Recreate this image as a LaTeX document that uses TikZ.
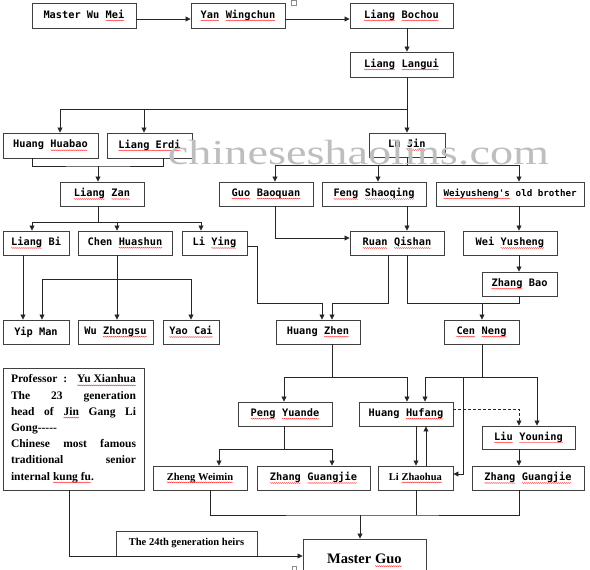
\documentclass[tikz,border=0pt]{standalone}
\usepackage{fontspec}
\setmainfont{Liberation Serif}
\newfontfamily\monofam{DejaVu Sans Mono}
\usetikzlibrary{arrows.meta,decorations.pathmorphing}
\tikzset{
  bx/.style={draw=black!75, line width=0.9pt, fill=white, inner sep=0pt, font=\monofam\bfseries\fontsize{10.3}{12}\selectfont},
  sbx/.style={bx, font=\bfseries\fontsize{10.5}{12}\selectfont},
  conn/.style={draw=black!85, line width=0.8pt},
  arr/.style={conn, -{Triangle[length=5pt,width=5pt]}},
  sqline/.style={draw=red!90, line width=0.35pt, decorate, decoration={snake,amplitude=0.5pt,segment length=2pt}},
  wmark/.style={text={rgb,255:red,190;green,190;blue,190}, font=\fontsize{35}{40}\selectfont, xscale=1.32, inner sep=0pt, anchor=base},
}
\newcommand\sq[1]{\tikz[baseline=(w.base)]{\node[inner sep=0pt,outer sep=0pt,draw=none,fill=none,minimum width=0pt,minimum height=0pt,anchor=base,shape=rectangle,xscale=1](w){#1};\draw[sqline]([yshift=-2.3pt]w.base west)--([yshift=-2.3pt]w.base east);}}
\newcommand\bx[7][]{\node[bx,#1,minimum width={(#5-#3)*1pt},minimum height={(#6-#4)*1pt}] (#2) at ({(#3+#5)/2},{(#4+#6)/2}) {#7};}
\begin{document}
\begin{tikzpicture}[x=1pt,y=-1pt]
\useasboundingbox (0,0) rectangle (590,570);
% boxes
\bx{wumei}{32}{3}{136}{28}{Master Wu \sq{Mei}}
\bx{yan}{191}{3}{285}{28}{\sq{Yan} \sq{Wingchun}}
\bx{bochou}{350}{3}{453}{28}{\sq{Liang} \sq{Bochou}}
\bx{langui}{350}{52}{453}{77}{\sq{Liang} \sq{Langui}}
\bx{huabao}{3}{133}{98}{158}{Huang \sq{Huabao}}
\bx{erdi}{107}{133}{192}{158}{\sq{Liang Erdi}}
\bx{lujin}{369}{133}{445}{157}{Lu \sq{Jin}}
\bx{zan}{60}{182}{144}{206}{\sq{Liang} \sq{Zan}}
\bx{guo}{219}{182}{313}{206}{\sq{Guo} \sq{Baoquan}}
\bx{feng}{322}{182}{426}{206}{\sq{Feng} \sq{Shaoqing}}
\bx[font=\monofam\bfseries\fontsize{9.2}{11}\selectfont]{weiold}{436}{182}{584}{206}{\sq{Weiyusheng's} old brother}
\bx{liangbi}{3}{231}{69}{255}{\sq{Liang} Bi}
\bx{chen}{78}{231}{172}{255}{Chen \sq{Huashun}}
\bx{liying}{182}{231}{247}{255}{Li \sq{Ying}}
\bx{ruan}{350}{231}{444}{255}{\sq{Ruan} \sq{Qishan}}
\bx{weiys}{463}{231}{557}{255}{Wei \sq{Yusheng}}
\bx{zhangbao}{482}{272}{557}{296}{\sq{Zhang} Bao}
\bx{yipman}{3}{320}{69}{344}{Yip Man}
\bx{wuzh}{78}{320}{153}{344}{Wu \sq{Zhongsu}}
\bx{yaocai}{163}{320}{219}{344}{\sq{Yao Cai}}
\bx{huangzhen}{276}{320}{360}{344}{Huang \sq{Zhen}}
\bx{cenneng}{444}{320}{519}{344}{\sq{Cen} \sq{Neng}}
\bx[sbx,font=\bfseries\fontsize{11.5}{16.2}\selectfont]{prof}{3}{368}{144}{490}{\begin{minipage}{125pt}\baselineskip=16.2pt
\makebox[\linewidth][s]{Professor : \sq{Yu Xianhua}}\\
\makebox[\linewidth][s]{The 23 generation}\\
\makebox[\linewidth][s]{head of \sq{Jin} Gang Li}\\
Gong{-}{-}{-}{-}{-}\\
\makebox[\linewidth][s]{Chinese most famous}\\
\makebox[\linewidth][s]{traditional senior}\\
internal \sq{kung fu}.\end{minipage}}
\bx{peng}{238}{402}{332}{426}{\sq{Peng} \sq{Yuande}}
\bx{hufang}{359}{402}{453}{426}{Huang \sq{Hufang}}
\bx{liuy}{482}{426}{575}{449}{\sq{Liu} \sq{Youning}}
\bx[sbx]{zheng}{153}{466}{247}{490}{\sq{Zheng Weimin}}
\bx{zgj1}{257}{466}{370}{490}{\sq{Zhang} \sq{Guangjie}}
\bx[sbx]{lizh}{378}{466}{453}{490}{Li \sq{Zhaohua}}
\bx{zgj2}{472}{466}{584}{490}{\sq{Zhang} \sq{Guangjie}}
\bx[sbx]{heirs}{116}{531}{257}{556}{The 24th generation heirs}
\bx[sbx,font=\bfseries\fontsize{14.5}{16}\selectfont]{mguo}{303}{539}{426}{582}{Master \sq{Guo}}
% junctions
\coordinate (j1) at (407,109);
\coordinate (j2) at (98,166);
\coordinate (j3) at (407,165);
\coordinate (j4) at (98,222);
\coordinate (j5) at (117,279);
\coordinate (b1) at (257,303);
\coordinate (b2) at (332,303);
\coordinate (b3) at (519,303);
\coordinate (j6) at (332,377);
\coordinate (j7) at (482,377);
\coordinate (j8) at (284,449);
\coordinate (j9) at (360,515);
% connectors
\draw[arr] (wumei.east |- 0,19) -- (yan.west |- 0,19);
\draw[arr] (yan.east |- 0,19) -- (bochou.west |- 0,19);
\draw[arr] (bochou.south -| 407,0) -- (langui.north -| 407,0);
\draw[arr] (langui.south -| 407,0) -- (lujin.north -| 407,0);
\draw[arr] (j1) -| (huabao.north -| 60,0);
\draw[arr] (j1 -| 144,0) -- (erdi.north -| 144,0);
\draw[conn] (huabao.south -| 32,0) |- (j2) -| (erdi.south -| 163,0);
\draw[arr] (j2) -- (zan.north -| 98,0);
\draw[conn] (lujin.south -| 407,0) -- (j3);
\draw[arr] (j3) -| (guo.north -| 275,0);
\draw[arr] (j3 -| 378,0) -- (feng.north -| 378,0);
\draw[arr] (j3) -| (weiold.north -| 519,0);
\draw[conn] (zan.south -| 98,0) -- (j4);
\draw[arr] (j4) -| (liangbi.north -| 32,0);
\draw[arr] (j4) -| (liying.north -| 201,0);
\draw[arr] (j4 -| 117,0) -- (chen.north -| 117,0);
\draw[arr] (feng.south -| 407,0) -- (ruan.north -| 407,0);
\draw[arr] (guo.south -| 275,0) |- (ruan.west |- 0,238);
\draw[arr] (weiold.south -| 519,0) -- (weiys.north -| 519,0);
\draw[arr] (weiys.south -| 519,0) -- (zhangbao.north -| 519,0);
\draw[arr] (liangbi.south -| 23,0) -- (yipman.north -| 23,0);
\draw[arr] (chen.south -| 117,0) -- (wuzh.north -| 117,0);
\draw[arr] (j5) -| (yipman.north -| 42,0);
\draw[arr] (j5) -| (yaocai.north -| 191,0);
\draw[arr] (liying.east |- 0,246) -| (b1) -| (huangzhen.north -| 322,0);
\draw[arr] (ruan.south -| 388,0) |- (b2) -- (huangzhen.north -| 332,0);
\draw[conn] (ruan.south -| 407,0) |- (b3) -- (zhangbao.south -| 519,0);
\draw[arr] (b3 -| 482,0) -- (cenneng.north -| 482,0);
\draw[conn] (huangzhen.south -| 332,0) -- (j6);
\draw[arr] (j6) -| (peng.north -| 284,0);
\draw[arr] (j6) -| (hufang.north -| 407,0);
\draw[conn] (cenneng.south -| 482,0) -- (j7);
\draw[arr] (j7) -| (hufang.north -| 425,0);
\draw[arr] (j7) -| (liuy.north -| 537,0);
\draw[arr] (j7 -| 463,0) |- (lizh.east |- 0,474);
\draw[arr,dashed,dash pattern=on 3pt off 2pt] (hufang.east |- 0,409) -| (liuy.north -| 519,0);
\draw[arr] (hufang.south -| 416,0) -- (lizh.north -| 416,0);
\draw[arr] (lizh.north -| 426,0) -- (hufang.south -| 426,0);
\draw[arr] (liuy.south -| 519,0) -- (zgj2.north -| 519,0);
\draw[conn] (peng.south -| 284,0) -- (j8);
\draw[arr] (j8) -| (zheng.north -| 219,0);
\draw[arr] (j8) -| (zgj1.north -| 332,0);
\draw[conn] (zheng.south -| 210,0) |- (j9) -| (zgj2.south -| 519,0);
\draw[conn] (lizh.south -| 416,0) -- (j9 -| 416,0);
\draw[arr] (j9) -- (mguo.north -| 360,0);
\draw[arr] (prof.south -| 69,0) |- (mguo.west |- 0,556);
% anchor marks
\draw[black!45, line width=0.4pt] (291.5,0.5) rectangle (296,5);
\draw[black!45, line width=0.4pt] (292,566) rectangle (296.5,570);
% watermark
\node[wmark] (wm) at (358.5,164) {chineseshaolins.com};
\end{tikzpicture}
\end{document}
